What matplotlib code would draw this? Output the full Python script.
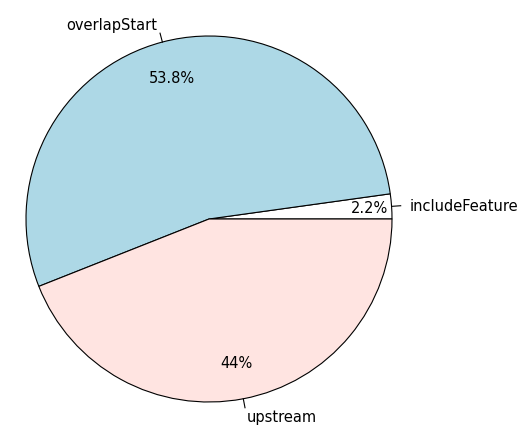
import numpy as np
import matplotlib.pyplot as plt

labels = ["includeFeature", "overlapStart", "upstream"]
pct_text = ["2.2%", "53.8%", "44%"]
values = [2.2, 53.8, 44.0]
colors = ["white", "lightblue", "mistyrose"]

fig = plt.figure(figsize=(5.22, 4.35), dpi=100)
ax = fig.add_axes([0, 0, 1, 1])
ax.set_xlim(0, 522)
ax.set_ylim(0, 435)
ax.set_aspect("equal")
ax.axis("off")

cx, cy, r = 209, 215, 183
wedges, _ = ax.pie(values, colors=colors, startangle=0, counterclock=True,
                   center=(cx, cy), radius=r, frame=True,
                   wedgeprops=dict(edgecolor="black", linewidth=0.8))
ax.set_xlim(0, 522)
ax.set_ylim(0, 435)
ax.axis("off")

pct_r = [0.88, 0.8, 0.8]
for w, lab, pt, pr in zip(wedges, labels, pct_text, pct_r):
    mid = np.deg2rad((w.theta1 + w.theta2) / 2)
    c, s = np.cos(mid), np.sin(mid)
    ax.plot([cx + r * c, cx + 1.05 * r * c], [cy + r * s, cy + 1.05 * r * s],
            color="black", lw=0.8)
    ha = "left" if c > 0 else "right"
    ax.text(cx + 1.1 * r * c, cy + 1.1 * r * s, lab, ha=ha, va="center", fontsize=10.5)
    ax.text(cx + pr * r * c, cy + pr * r * s, pt, ha="center", va="center", fontsize=10.5)

fig.savefig("out.png", dpi=100)
